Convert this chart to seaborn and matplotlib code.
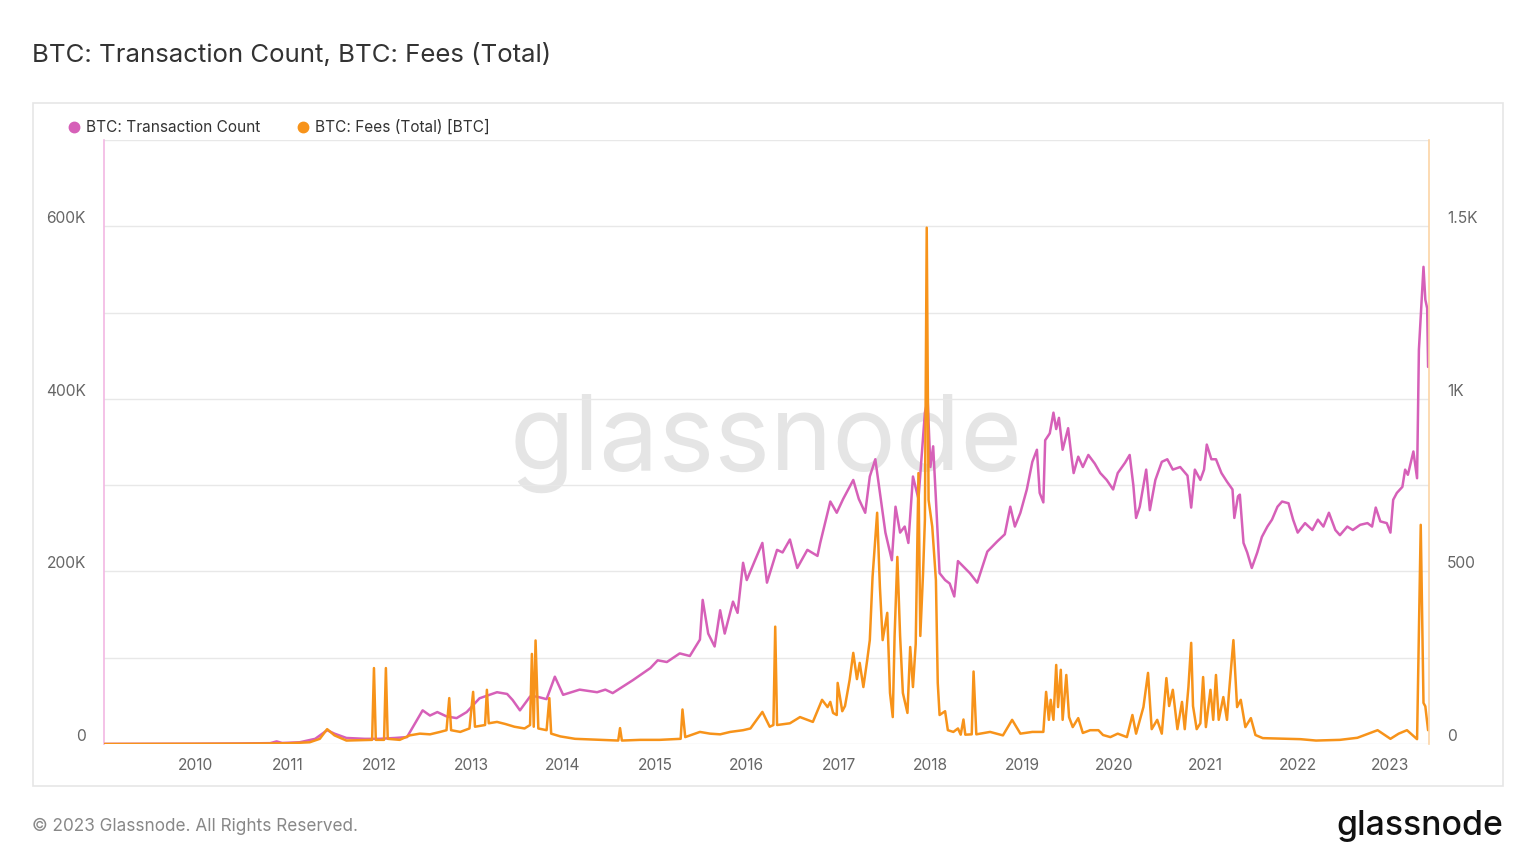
import matplotlib
matplotlib.use("Agg")
import matplotlib.pyplot as plt
from matplotlib.lines import Line2D
from matplotlib.patches import Rectangle
import seaborn as sns

# ---------- DATA ----------
# BTC: Transaction Count (thousands per day), x in decimal years
tx_year = [2009.0, 2009.5, 2010.0, 2010.48, 2010.81, 2010.88, 2010.94, 2011.13, 2011.3, 2011.43,
           2011.51, 2011.64, 2011.84, 2012.0, 2012.17, 2012.3, 2012.41, 2012.47, 2012.55, 2012.63,
           2012.73, 2012.84, 2012.95, 2013.09, 2013.2, 2013.28, 2013.39, 2013.45, 2013.53, 2013.64,
           2013.71, 2013.82, 2013.91, 2014.0, 2014.18, 2014.37, 2014.46, 2014.54, 2014.7, 2014.76,
           2014.95, 2015.03, 2015.13, 2015.27, 2015.38, 2015.49, 2015.52, 2015.58, 2015.65, 2015.71,
           2015.76, 2015.85, 2015.9, 2015.96, 2016.0, 2016.09, 2016.17, 2016.22, 2016.33, 2016.39,
           2016.47, 2016.55, 2016.66, 2016.77, 2016.8, 2016.91, 2016.98, 2017.05, 2017.16, 2017.22,
           2017.29, 2017.34, 2017.4, 2017.45, 2017.51, 2017.58, 2017.62, 2017.67, 2017.72, 2017.76,
           2017.81, 2017.87, 2017.94, 2017.97, 2018.0, 2018.03, 2018.06, 2018.1, 2018.16, 2018.21,
           2018.26, 2018.3, 2018.43, 2018.51, 2018.62, 2018.73, 2018.81, 2018.87, 2018.92, 2018.98,
           2019.05, 2019.11, 2019.16, 2019.19, 2019.23, 2019.25, 2019.3, 2019.34, 2019.37, 2019.4,
           2019.44, 2019.5, 2019.54, 2019.56, 2019.61, 2019.66, 2019.72, 2019.79, 2019.85, 2019.92,
           2019.99, 2020.04, 2020.12, 2020.17, 2020.21, 2020.24, 2020.28, 2020.35, 2020.39, 2020.45,
           2020.52, 2020.58, 2020.64, 2020.72, 2020.8, 2020.84, 2020.88, 2020.94, 2020.98, 2021.01,
           2021.06, 2021.11, 2021.17, 2021.23, 2021.29, 2021.31, 2021.35, 2021.37, 2021.41, 2021.45,
           2021.5, 2021.56, 2021.61, 2021.67, 2021.72, 2021.78, 2021.83, 2021.9, 2021.95, 2022.0,
           2022.08, 2022.16, 2022.22, 2022.28, 2022.34, 2022.41, 2022.46, 2022.54, 2022.6, 2022.68,
           2022.76, 2022.81, 2022.85, 2022.9, 2022.97, 2023.01, 2023.04, 2023.08, 2023.14, 2023.17,
           2023.2, 2023.26, 2023.3, 2023.32, 2023.37, 2023.39, 2023.41, 2023.42]
tx_count_k = [0.1, 0.2, 0.3, 0.6, 1.0, 3.0, 1.2, 2, 6, 16,
              12, 7, 6, 6, 7, 8, 28, 39, 33, 37,
              32, 30, 37, 53, 57, 60, 58, 51, 39, 55,
              55, 52, 78, 57, 63, 60, 63, 59, 70, 74,
              88, 97, 95, 105, 102, 121, 167, 128, 113, 155,
              128, 165, 152, 210, 190, 213, 233, 187, 225, 222,
              237, 204, 225, 218, 233, 281, 268, 284, 306, 284,
              268, 310, 330, 291, 245, 213, 275, 245, 252, 233,
              310, 284, 384, 399, 321, 345, 284, 198, 190, 186,
              171, 212, 198, 187, 223, 235, 243, 275, 252, 268,
              295, 327, 341, 291, 280, 352, 360, 384, 365, 378,
              341, 366, 330, 314, 333, 321, 335, 325, 314, 306,
              295, 314, 326, 335, 300, 262, 275, 318, 271, 306,
              327, 330, 318, 321, 311, 274, 318, 306, 318, 347,
              330, 330, 314, 304, 295, 262, 287, 289, 233, 222,
              204, 222, 240, 252, 260, 275, 281, 279, 260, 245,
              256, 248, 260, 252, 268, 248, 242, 252, 248, 254,
              256, 252, 274, 258, 256, 245, 283, 291, 298, 318,
              312, 339, 308, 457, 553, 515, 505, 437]

# BTC: Fees (Total) [BTC] per day
fee_year = [2009.0, 2010.0, 2010.48, 2011.0, 2011.24, 2011.35, 2011.43, 2011.51, 2011.64, 2011.92,
            2011.94, 2011.96, 2012.05, 2012.07, 2012.09, 2012.22, 2012.33, 2012.44, 2012.55, 2012.66,
            2012.73, 2012.76, 2012.78, 2012.88, 2012.98, 2013.02, 2013.04, 2013.15, 2013.17, 2013.19,
            2013.28, 2013.37, 2013.47, 2013.58, 2013.64, 2013.66, 2013.68, 2013.7, 2013.73, 2013.82,
            2013.85, 2013.87, 2013.97, 2014.13, 2014.4, 2014.6, 2014.62, 2014.64, 2014.84, 2015.05,
            2015.28, 2015.3, 2015.33, 2015.49, 2015.6, 2015.71, 2015.82, 2015.96, 2016.04, 2016.17,
            2016.25, 2016.29, 2016.31, 2016.33, 2016.47, 2016.58, 2016.72, 2016.82, 2016.88, 2016.91,
            2016.94, 2016.98, 2016.99, 2017.04, 2017.07, 2017.12, 2017.16, 2017.2, 2017.23, 2017.27,
            2017.31, 2017.34, 2017.37, 2017.42, 2017.45, 2017.48, 2017.53, 2017.56, 2017.59, 2017.61,
            2017.64, 2017.67, 2017.7, 2017.75, 2017.78, 2017.81, 2017.84, 2017.87, 2017.89, 2017.92,
            2017.94, 2017.96, 2017.98, 2018.02, 2018.06, 2018.08, 2018.1, 2018.16, 2018.19, 2018.25,
            2018.3, 2018.33, 2018.36, 2018.38, 2018.45, 2018.47, 2018.5, 2018.65, 2018.79, 2018.89,
            2018.98, 2019.11, 2019.23, 2019.26, 2019.29, 2019.31, 2019.34, 2019.37, 2019.39, 2019.42,
            2019.44, 2019.48, 2019.51, 2019.55, 2019.61, 2019.66, 2019.74, 2019.83, 2019.88, 2019.96,
            2020.04, 2020.14, 2020.2, 2020.24, 2020.32, 2020.37, 2020.41, 2020.47, 2020.52, 2020.57,
            2020.6, 2020.64, 2020.69, 2020.74, 2020.77, 2020.81, 2020.84, 2020.86, 2020.9, 2020.94,
            2020.97, 2021.0, 2021.05, 2021.08, 2021.11, 2021.14, 2021.19, 2021.23, 2021.25, 2021.3,
            2021.34, 2021.38, 2021.43, 2021.49, 2021.54, 2021.62, 2022.03, 2022.2, 2022.46, 2022.65,
            2022.87, 2023.01, 2023.1, 2023.19, 2023.3, 2023.34, 2023.37, 2023.39, 2023.42]
fee_btc = [0, 0.5, 1, 2, 5, 15, 43, 25, 10, 12,
           220, 12, 12, 220, 15, 12, 25, 30, 28, 35,
           40, 133, 40, 35, 45, 151, 50, 55, 157, 60,
           64, 58, 50, 45, 55, 261, 50, 300, 45, 40,
           133, 30, 22, 15, 12, 10, 46, 10, 12, 12,
           15, 100, 20, 35, 30, 28, 35, 40, 45, 93,
           50, 55, 340, 55, 60, 78, 64, 128, 107, 122,
           90, 84, 177, 95, 110, 185, 264, 188, 235, 165,
           240, 301, 484, 670, 455, 301, 380, 148, 78, 313,
           542, 313, 148, 90, 281, 165, 290, 785, 313, 495,
           649, 1496, 707, 630, 475, 177, 84, 95, 40, 35,
           45, 27, 71, 27, 28, 210, 28, 35, 25, 70,
           30, 35, 35, 151, 70, 128, 70, 229, 107, 215,
           70, 200, 78, 49, 75, 32, 40, 40, 26, 20,
           30, 20, 84, 30, 107, 206, 43, 70, 30, 191,
           110, 157, 43, 122, 43, 165, 293, 110, 43, 60,
           194, 49, 157, 70, 200, 70, 136, 70, 143, 301,
           107, 128, 49, 75, 26, 17, 14, 10, 12, 18,
           40, 15, 30, 40, 14, 635, 119, 109, 40]

year_ticks = list(range(2010, 2024))
tx_ticks = [0, 200000, 400000, 600000]
tx_tick_labels = ["0", "200K", "400K", "600K"]
fee_ticks = [0, 500, 1000, 1500]
fee_tick_labels = ["0", "500", "1K", "1.5K"]

assert len(tx_year) == len(tx_count_k)
assert len(fee_year) == len(fee_btc)

PINK = "#d660b8"
ORANGE = "#f7931a"

# ---------- STYLE ----------
sns.set_style("white")
plt.rcParams["font.family"] = ["Inter", "DejaVu Sans"]

W, H = 1536, 864
fig = plt.figure(figsize=(W / 100, H / 100), dpi=100)

# panel frame
fig.add_artist(Rectangle((33 / W, 1 - 786 / H), (1503 - 33) / W, (786 - 103) / H,
                         transform=fig.transFigure, facecolor="none",
                         edgecolor="#e6e6e6", linewidth=1.2))

ax = fig.add_axes([104 / W, 1 - 744 / H, (1429 - 104) / W, (744 - 140) / H])
ax2 = ax.twinx()

# watermark
ax.text(0.5, 1 - (470 - 140) / 604, "glassnode", transform=ax.transAxes,
        ha="center", va="baseline", fontsize=76, color="#e5e5e5", zorder=0)

tx_count = [v * 1000 for v in tx_count_k]
sns.lineplot(x=tx_year, y=tx_count, ax=ax, color=PINK, linewidth=1.8, errorbar=None)
sns.lineplot(x=fee_year, y=fee_btc, ax=ax2, color=ORANGE, linewidth=1.8, errorbar=None)

ax.set_xlim(2009.0, 2023.43)
ax.set_ylim(0, 700000)
ax2.set_ylim(0, 1750)

ax.set_xticks(year_ticks)
ax.set_xticklabels([str(y) for y in year_ticks])
ax.set_yticks(tx_ticks)
ax.set_yticklabels(tx_tick_labels)
ax.set_yticks([100000, 300000, 500000, 700000], minor=True)
ax.grid(axis="y", which="both", color="#e8e8e8", linewidth=1)
ax.set_axisbelow(True)

ax2.set_yticks(fee_ticks)
ax2.set_yticklabels(fee_tick_labels)
ax2.grid(False)

ax.tick_params(axis="both", which="both", length=0, labelsize=11.2, labelcolor="#666666")
ax.tick_params(axis="x", pad=10)
ax.tick_params(axis="y", pad=13)
ax2.tick_params(axis="y", length=0, labelsize=11.2, labelcolor="#666666", pad=13)
for lbl in ax.get_yticklabels() + ax2.get_yticklabels():
    lbl.set_verticalalignment("bottom")

ax.set_xlabel("")
ax.set_ylabel("")
ax2.set_ylabel("")

for s in ["top", "bottom", "right"]:
    ax.spines[s].set_visible(False)
for s in ["top", "bottom", "left"]:
    ax2.spines[s].set_visible(False)
ax.spines["left"].set_color("#f2b8e3")
ax.spines["left"].set_linewidth(1.2)
ax2.spines["right"].set_color("#fcd4a6")
ax2.spines["right"].set_linewidth(1.2)

# legend
fig.add_artist(Line2D([74 / W], [1 - 127 / H], marker="o", markersize=7.5, color=PINK,
                      linestyle="none", transform=fig.transFigure))
fig.text(86 / W, 1 - 127 / H, "BTC: Transaction Count", fontsize=11.1, color="#333333",
         va="center", ha="left")
fig.add_artist(Line2D([303 / W], [1 - 127 / H], marker="o", markersize=7.5, color=ORANGE,
                      linestyle="none", transform=fig.transFigure))
fig.text(315 / W, 1 - 127 / H, "BTC: Fees (Total) [BTC]", fontsize=11.1, color="#333333",
         va="center", ha="left")

# title and footer
fig.text(32 / W, 1 - 55 / H, "BTC: Transaction Count, BTC: Fees (Total)", fontsize=18.6,
         color="#333333", va="center", ha="left")
fig.text(32 / W, 1 - 826 / H, "\u00a9 2023 Glassnode. All Rights Reserved.", fontsize=12.35,
         color="#888888", va="center", ha="left")
fig.text(1503 / W, 1 - 826 / H, "glassnode", fontsize=24.3, fontweight="medium",
         color="#111111", va="center", ha="right")

fig.savefig("out.png", dpi=100, facecolor="white")
